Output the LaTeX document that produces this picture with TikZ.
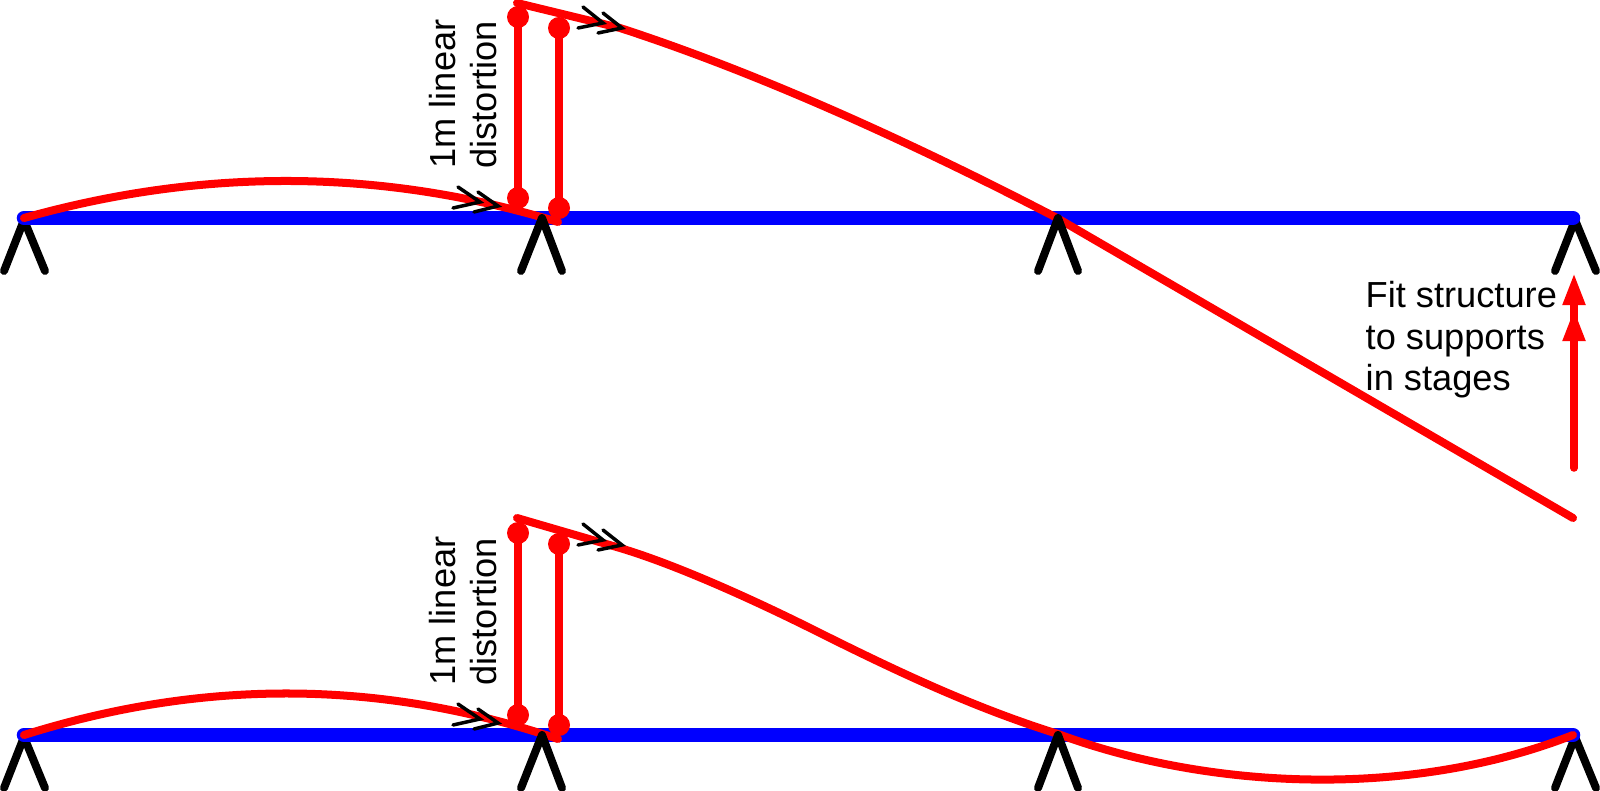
\documentclass[tikz,border=0pt]{standalone}
\usepackage{fontspec}
\setmainfont{Liberation Sans}
\usetikzlibrary{arrows.meta}
\tikzset{
    beam/.style={blue,line width=0.145cm,line cap=round},
    support/.style={black,line width=0.08cm,line cap=round,line join=round},
    deflection/.style={red,line width=0.08cm,line cap=round},
    post/.style={red,line width=0.075cm},
    chevron/.style={black,line width=0.035cm,line cap=round},
    note/.style={font=\fontsize{10.3pt}{11.8pt}\selectfont,align=left,inner sep=0pt},
}

\begin{document}
\begin{tikzpicture}[x=0.01cm,y=-0.01cm]
    \useasboundingbox (0,0) rectangle (1600,791);
    % supports under the beams
    \draw[support] (4,271) -- (24,220) -- (45,271);
    \draw[support] (1555,271) -- (1575,220) -- (1596,271);
    \draw[support] (4,788) -- (24,737) -- (45,788);
    \draw[support] (1555,788) -- (1575,737) -- (1596,788);
    % beams
    \draw[beam] (24,218) -- (1573,218);
    \draw[beam] (24,735) -- (1573,735);
    % upper deflected shape
    \draw[deflection] (24,218) .. controls (202,168) and (380,168) .. (558,222);
    \draw[deflection] (517,3) -- (620,28) .. controls (734,65) and (880,126) .. (1057,218) -- (1573,518);
    % lower deflected shape
    \draw[deflection] (24,735) .. controls (202,679) and (380,679) .. (558,739);
    \draw[deflection] (517,518) -- (620,548) .. controls (680,566) and (760,603) .. (816,631)
        .. controls (900,673) and (975,708) .. (1058,734)
        .. controls (1210,790) and (1410,799) .. (1573,735);
    % supports over the red line
    \draw[support] (521,271) -- (542,218) -- (562,271);
    \draw[support] (1038,271) -- (1058,218) -- (1078,271);
    \draw[support] (521,788) -- (542,735) -- (562,788);
    \draw[support] (1038,788) -- (1058,735) -- (1078,788);
    % offsets
    \draw[post] (518,17) -- (518,198);
    \draw[post] (559,28) -- (559,208);
    \fill[red] (518,17) circle (0.11cm) (518,198) circle (0.11cm);
    \fill[red] (559,28) circle (0.11cm) (559,208) circle (0.11cm);
    \draw[post] (518,533) -- (518,715);
    \draw[post] (559,544) -- (559,725);
    \fill[red] (518,533) circle (0.11cm) (518,715) circle (0.11cm);
    \fill[red] (559,544) circle (0.11cm) (559,725) circle (0.11cm);
    % parallel marks
    \draw[chevron] (458,187) -- (480,202) -- (453,208);
    \draw[chevron] (478,192) -- (498,206) -- (474,212);
    \draw[chevron] (583,7) -- (603,23) -- (578,28);
    \draw[chevron] (603,13) -- (622,28) -- (598,33);
    \draw[chevron] (458,704) -- (480,719) -- (453,725);
    \draw[chevron] (478,709) -- (498,723) -- (474,729);
    \draw[chevron] (583,524) -- (603,540) -- (578,545);
    \draw[chevron] (603,530) -- (622,545) -- (598,550);
    % annotations
    \node[note,rotate=90] (distUpper) at (463,94) {1m linear\\distortion};
    \node[note,rotate=90] (distLower) at (463,611) {1m linear\\distortion};
    \node[note,anchor=west] (fitNote) at (1365,340) {Fit structure\\to supports\\in stages};
    \coordinate (liftStart) at (1574,468);
    \coordinate (liftEnd) at (1574,273);
    \draw[post,line cap=round,-{Triangle[length=0.32cm,width=0.21cm,sep=0.04cm] Triangle[length=0.32cm,width=0.21cm]}] (liftStart) -- (liftEnd);
\end{tikzpicture}
\end{document}
